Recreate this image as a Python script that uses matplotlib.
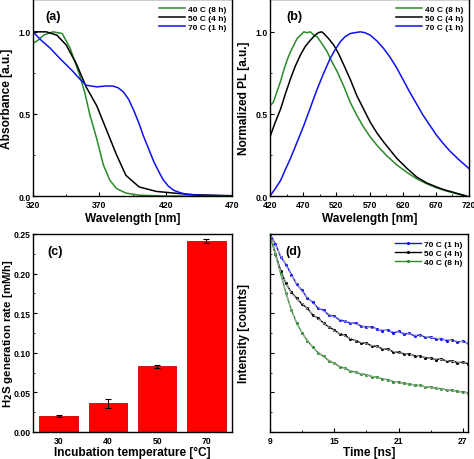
import numpy as np
import matplotlib
matplotlib.use("Agg")
import matplotlib.pyplot as plt
from matplotlib.ticker import MultipleLocator, AutoMinorLocator, FormatStrFormatter

plt.rcParams['font.family'] = ['Liberation Sans', 'DejaVu Sans']
plt.rcParams['font.weight'] = 'bold'
plt.rcParams['axes.labelweight'] = 'bold'
plt.rcParams['mathtext.default'] = 'bf'

GREEN = "#2a8a2a"
BLUE = "#1010f0"
BLACK = "#000000"

# === (a) absorbance ===
abs_green_x = [320, 324, 328, 335, 342, 348, 355, 359, 363, 368, 373, 378, 383, 390, 400, 420, 470]
abs_green_y = [0.93, 0.95, 0.98, 1.0, 0.99, 0.90, 0.74, 0.63, 0.49, 0.35, 0.19, 0.095, 0.045, 0.018, 0.005, 0.0, 0.0]
abs_black_x = [320, 325, 330, 338, 345, 353, 360, 368, 375, 383, 390, 400, 413, 426, 441, 470]
abs_black_y = [1.0, 1.0, 1.0, 0.98, 0.92, 0.80, 0.665, 0.55, 0.41, 0.25, 0.126, 0.055, 0.028, 0.018, 0.008, 0.002]
abs_blue_x = [320, 326, 333, 340, 345, 350, 355, 360, 368, 375, 380, 384, 388, 392, 396, 400, 403, 407, 411, 415, 418, 422, 426, 431, 436, 446, 470]
abs_blue_y = [1.0, 0.95, 0.90, 0.84, 0.80, 0.76, 0.715, 0.675, 0.665, 0.67, 0.67, 0.66, 0.635, 0.59, 0.52, 0.44, 0.37, 0.29, 0.21, 0.145, 0.10, 0.06, 0.035, 0.02, 0.01, 0.004, 0.0]
abs_ticks = [320, 370, 420, 470]

# === (b) PL ===
pl_green_x = [420, 425, 430, 436, 441, 446, 451, 456, 461, 466, 471, 476, 481, 486, 491, 498, 506, 513, 521, 531, 541, 551, 561, 571, 581, 596, 611, 626, 641, 656, 671, 684, 697, 707, 716]
pl_green_y = [0.55, 0.57, 0.63, 0.70, 0.77, 0.83, 0.88, 0.92, 0.96, 0.98, 1.0, 0.995, 1.0, 0.98, 0.97, 0.93, 0.88, 0.82, 0.76, 0.67, 0.57, 0.49, 0.42, 0.36, 0.31, 0.245, 0.19, 0.145, 0.105, 0.075, 0.05, 0.033, 0.018, 0.008, 0.0]
pl_black_x = [420, 428, 436, 443, 451, 458, 466, 473, 481, 488, 493, 498, 501, 508, 516, 523, 531, 541, 551, 561, 571, 581, 591, 601, 611, 626, 641, 656, 671, 684, 697, 707, 716]
pl_black_y = [0.36, 0.45, 0.53, 0.62, 0.715, 0.79, 0.86, 0.91, 0.95, 0.98, 0.995, 1.0, 0.99, 0.96, 0.92, 0.87, 0.80, 0.71, 0.61, 0.53, 0.45, 0.385, 0.33, 0.28, 0.23, 0.17, 0.116, 0.08, 0.055, 0.036, 0.022, 0.01, 0.0]
pl_blue_x = [420, 428, 436, 443, 451, 461, 471, 481, 491, 501, 511, 518, 526, 533, 541, 548, 556, 563, 571, 581, 591, 601, 611, 621, 631, 641, 651, 661, 671, 681, 692, 705, 720]
pl_blue_y = [0.0, 0.045, 0.095, 0.16, 0.23, 0.33, 0.43, 0.54, 0.65, 0.75, 0.84, 0.89, 0.94, 0.97, 0.99, 0.995, 1.0, 0.995, 0.98, 0.945, 0.90, 0.845, 0.78, 0.705, 0.63, 0.56, 0.49, 0.43, 0.37, 0.32, 0.27, 0.22, 0.167]
pl_ticks = [420, 470, 520, 570, 620, 670, 720]

# === (c) H2S generation rate ===
temps = ["30", "40", "50", "70"]
rates = [0.020, 0.036, 0.083, 0.241]
rate_err = [0.001, 0.006, 0.002, 0.003]

# === (d) decay ===
t_data = np.arange(9.0, 27.51, 0.5)
dec_blue = [10.0, 9.5, 8.85, 8.45, 7.95, 7.45, 7.15, 6.75, 6.55, 6.25, 6.15, 5.9, 5.85, 5.65, 5.6, 5.5, 5.5, 5.35, 5.3, 5.3,
            5.2, 5.12, 5.15, 5.0, 5.08, 4.95, 4.98, 4.85, 4.9, 4.78, 4.8, 4.7, 4.72, 4.62, 4.65, 4.55, 4.58, 4.48]
dec_black = [10.0, 9.0, 8.15, 7.5, 7.05, 6.75, 6.45, 6.25, 5.9, 5.75, 5.5, 5.3, 5.15, 4.95, 4.88, 4.7, 4.62, 4.5, 4.48, 4.35,
             4.32, 4.2, 4.18, 4.05, 4.02, 3.95, 3.95, 3.85, 3.84, 3.75, 3.74, 3.66, 3.68, 3.58, 3.6, 3.5, 3.52, 3.45]
dec_green = [9.9, 9.0, 8.0, 7.0, 6.15, 5.5, 5.0, 4.6, 4.28, 4.0, 3.82, 3.6, 3.47, 3.3, 3.22, 3.08, 3.02, 2.92, 2.9, 2.8,
             2.77, 2.68, 2.64, 2.55, 2.52, 2.45, 2.44, 2.36, 2.35, 2.28, 2.27, 2.2, 2.19, 2.12, 2.12, 2.05, 2.03, 1.98]
t_fit = [9, 10, 11, 12, 13, 14, 15, 16, 17, 18, 19, 20, 21, 22, 23, 24, 25, 26, 27, 27.5]
fit_blue = [10.0, 8.9, 7.9, 7.1, 6.5, 6.1, 5.8, 5.6, 5.45, 5.3, 5.2, 5.1, 5.05, 4.95, 4.85, 4.78, 4.7, 4.62, 4.55, 4.5]
fit_black = [10.0, 8.1, 7.0, 6.5, 5.95, 5.5, 5.1, 4.85, 4.6, 4.45, 4.3, 4.15, 4.0, 3.92, 3.82, 3.72, 3.65, 3.57, 3.5, 3.47]
fit_green = [10.0, 8.0, 6.1, 5.0, 4.25, 3.8, 3.45, 3.2, 3.0, 2.88, 2.75, 2.62, 2.5, 2.42, 2.33, 2.25, 2.17, 2.1, 2.0, 1.97]
time_ticks = [9, 15, 21, 27]

fig = plt.figure(figsize=(4.74, 4.6), dpi=100)
ax_a = fig.add_axes([0.0696, 0.5717, 0.42, 0.4283])
ax_b = fig.add_axes([0.5696, 0.5717, 0.42, 0.4283])
ax_c = fig.add_axes([0.0696, 0.0587, 0.42, 0.4305])
ax_d = fig.add_axes([0.5696, 0.0587, 0.418, 0.4305])

TICK_FS = 6.2
LABEL_FS = 8.6


def style(ax):
    ax.tick_params(which='both', direction='in', labelsize=TICK_FS, pad=1.5)
    ax.tick_params(axis='x', which='both', pad=2.8)
    ax.tick_params(which='major', length=3, width=0.8)
    ax.tick_params(which='minor', length=1.5, width=0.6)
    for s in ax.spines.values():
        s.set_linewidth(1.0)
    for lab in ax.get_xticklabels() + ax.get_yticklabels():
        lab.set_fontweight('bold')


def legend(ax, handles):
    return ax.legend(handles=handles, loc='upper right', frameon=False,
                     handlelength=3.2, handletextpad=0.3, labelspacing=0.15,
                     borderaxespad=0.3, prop={'weight': 'bold', 'size': 6})


# (a)
ga, = ax_a.plot(abs_green_x, abs_green_y, color=GREEN, lw=1.1, label="40 C (8 h)")
ka, = ax_a.plot(abs_black_x, abs_black_y, color=BLACK, lw=1.1, label="50 C (4 h)")
ba, = ax_a.plot(abs_blue_x, abs_blue_y, color=BLUE, lw=1.1, label="70 C (1 h)")
ax_a.set_xlim(320, 470)
ax_a.set_ylim(0, 1.2)
ax_a.set_xticks(abs_ticks)
ax_a.xaxis.set_minor_locator(AutoMinorLocator(2))
ax_a.yaxis.set_major_locator(MultipleLocator(0.5))
ax_a.yaxis.set_minor_locator(AutoMinorLocator(2))
ax_a.set_xlabel("Wavelength [nm]", fontsize=LABEL_FS, labelpad=2)
ax_a.set_ylabel("Absorbance [a.u.]", fontsize=LABEL_FS)
ax_a.yaxis.set_label_coords(-0.1, 0.5)
ax_a.text(0.06, 0.9, "(a)", transform=ax_a.transAxes, fontsize=9, fontweight='bold')
legend(ax_a, [ga, ka, ba])
style(ax_a)

# (b)
gb, = ax_b.plot(pl_green_x, pl_green_y, color=GREEN, lw=1.1, label="40 C (8 h)")
kb, = ax_b.plot(pl_black_x, pl_black_y, color=BLACK, lw=1.1, label="50 C (4 h)")
bb, = ax_b.plot(pl_blue_x, pl_blue_y, color=BLUE, lw=1.1, label="70 C (1 h)")
ax_b.set_xlim(420, 720)
ax_b.set_ylim(0, 1.2)
ax_b.set_xticks(pl_ticks)
ax_b.xaxis.set_minor_locator(AutoMinorLocator(2))
ax_b.yaxis.set_major_locator(MultipleLocator(0.5))
ax_b.yaxis.set_minor_locator(AutoMinorLocator(2))
ax_b.set_xlabel("Wavelength [nm]", fontsize=LABEL_FS, labelpad=2)
ax_b.set_ylabel("Normalized PL [a.u.]", fontsize=LABEL_FS)
ax_b.yaxis.set_label_coords(-0.1, 0.5)
ax_b.text(0.08, 0.9, "(b)", transform=ax_b.transAxes, fontsize=9, fontweight='bold')
legend(ax_b, [gb, kb, bb])
style(ax_b)

# (c)
pos = np.arange(len(temps))
ax_c.bar(pos, rates, width=0.78, color="#ff0000", edgecolor="#cc0000", linewidth=0.6,
         yerr=rate_err, ecolor='black', capsize=2, error_kw={'elinewidth': 0.8, 'capthick': 0.8})
ax_c.set_xticks(pos)
ax_c.set_xticklabels(temps)
ax_c.set_xlim(-0.52, 3.52)
ax_c.set_ylim(0, 0.25)
ax_c.yaxis.set_major_locator(MultipleLocator(0.05))
ax_c.yaxis.set_minor_locator(AutoMinorLocator(2))
ax_c.yaxis.set_major_formatter(FormatStrFormatter('%.2f'))
ax_c.set_xlabel("Incubation temperature [\u00b0C]", fontsize=LABEL_FS, labelpad=1)
ax_c.set_ylabel(r"H$_2$S generation rate [mM/h]", fontsize=8.2)
ax_c.yaxis.set_label_coords(-0.09, 0.5)
ax_c.text(0.07, 0.9, "(c)", transform=ax_c.transAxes, fontsize=9, fontweight='bold')
style(ax_c)
ax_c.tick_params(axis='x', which='both', length=0)

# (d)
for ys, fit, col, lab in [(dec_blue, fit_blue, BLUE, "70 C (1 h)"),
                          (dec_black, fit_black, BLACK, "50 C (4 h)"),
                          (dec_green, fit_green, GREEN, "40 C (8 h)")]:
    ax_d.plot(t_data, ys, color=col, lw=1.0, marker='.', ms=2.5, label=lab)
    ax_d.plot(t_fit, fit, color="#b0b0b0", lw=0.8, ls='--')
ax_d.set_xlim(9, 27.5)
ax_d.set_ylim(0, 10)
ax_d.set_xticks(time_ticks)
ax_d.xaxis.set_minor_locator(AutoMinorLocator(2))
ax_d.yaxis.set_major_locator(MultipleLocator(2))
ax_d.yaxis.set_minor_locator(AutoMinorLocator(2))
ax_d.set_xlabel("Time [ns]", fontsize=LABEL_FS, labelpad=1)
ax_d.set_ylabel("Intensity [counts]", fontsize=LABEL_FS)
ax_d.yaxis.set_label_coords(-0.1, 0.5)
ax_d.text(0.08, 0.9, "(d)", transform=ax_d.transAxes, fontsize=9, fontweight='bold')
hd, ld = ax_d.get_legend_handles_labels()
ax_d.legend(hd, ld, loc='upper right', frameon=False, handlelength=3.2, handletextpad=0.3,
            labelspacing=0.15, borderaxespad=0.3, prop={'weight': 'bold', 'size': 6})
style(ax_d)
ax_d.set_yticklabels([])

fig.savefig("out.png", dpi=100)
